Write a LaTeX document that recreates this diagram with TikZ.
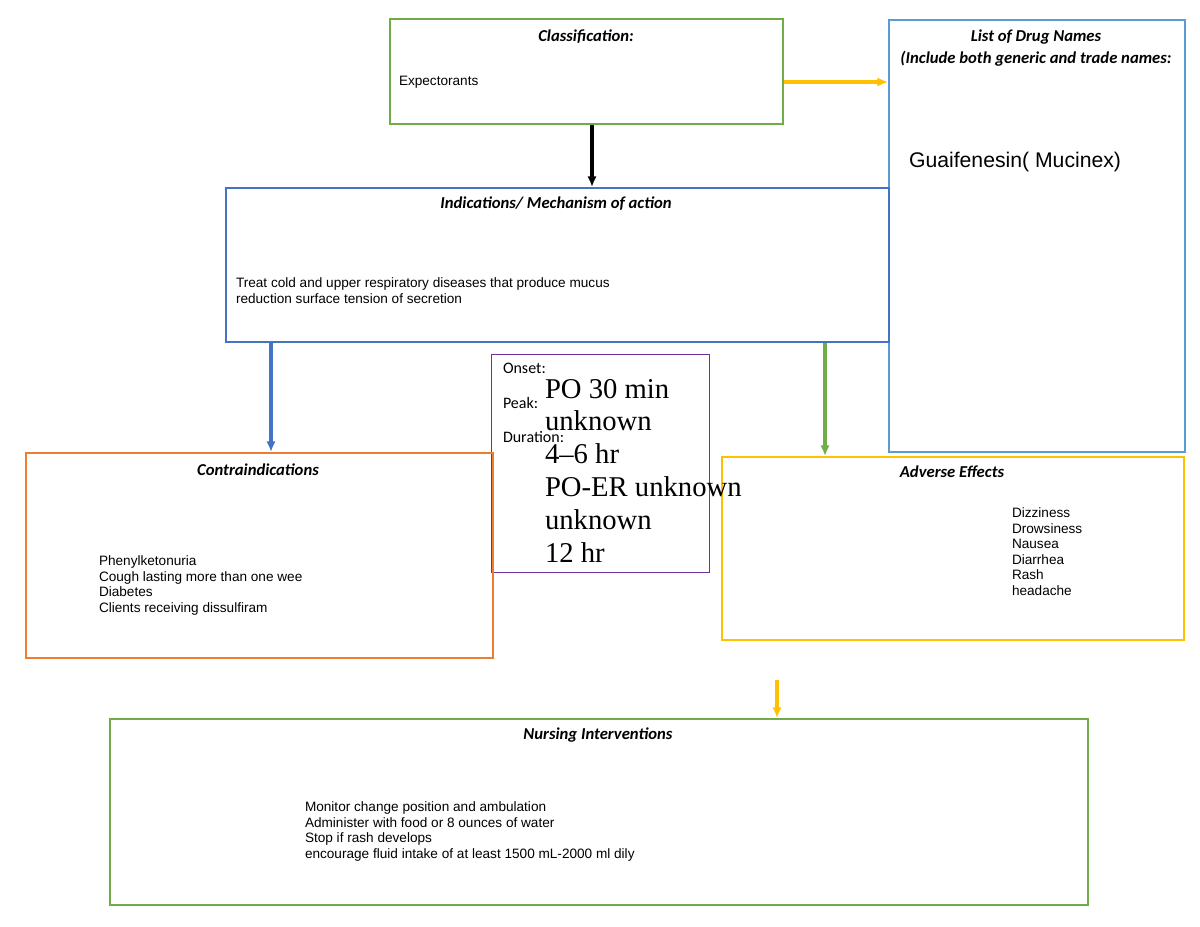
\documentclass[tikz,border=0pt]{standalone}
\usepackage{fontspec}
\setmainfont{Liberation Sans}
\newfontfamily\titlefont{Carlito}
\newfontfamily\bigserif{Liberation Serif}
\usetikzlibrary{arrows.meta}
\definecolor{cgreen}{RGB}{112,173,71}
\definecolor{cblue}{RGB}{91,155,213}
\definecolor{cdblue}{RGB}{68,114,196}
\definecolor{cpurple}{RGB}{112,48,160}
\definecolor{corange}{RGB}{237,125,49}
\definecolor{cgold}{RGB}{255,192,0}
\tikzset{every picture/.style={line width=1.5pt}}
\tikzset{box/.style={draw,rectangle,inner sep=0pt,anchor=north west},
  ttl/.style={font=\titlefont\bfseries\itshape\fontsize{12.5}{15}\selectfont},
  txt/.style={font=\fontsize{10.2}{11.6}\selectfont,align=left,anchor=north west,inner sep=0pt},
  arr/.style={-{Latex[length=8pt,width=7pt]},line width=2.8pt}}

\begin{document}
\begin{tikzpicture}[x=0.75pt,y=0.75pt,yscale=-1,xscale=1]
\useasboundingbox (0,0) rectangle (1200,927);

%Shape: Rectangle [id:class]
\node (class) [box,draw=cgreen,minimum width=294.75pt,minimum height=78.75pt] at (389,18) {};
%Shape: Rectangle [id:names]
\node (names) [box,draw=cblue,minimum width=222pt,minimum height=324pt] at (888,19) {};
%Shape: Rectangle [id:ind]
\node (ind) [box,draw=cdblue,minimum width=497.25pt,minimum height=115.5pt] at (225,187) {};
%Shape: Rectangle [id:onset]
\node (onset) [box,draw=cpurple,line width=0.8pt,minimum width=163.5pt,minimum height=163.5pt] at (491,354) {};
%Shape: Rectangle [id:contra]
\node (contra) [box,draw=corange,minimum width=350.25pt,minimum height=153.75pt] at (25,452) {};
%Shape: Rectangle [id:adverse]
\node (adverse) [box,draw=cgold,minimum width=346.5pt,minimum height=137.25pt] at (721,456) {};
%Shape: Rectangle [id:nursing]
\node (nursing) [box,draw=cgreen,minimum width=733.5pt,minimum height=139.5pt] at (109,718) {};
\coordinate (yfree) at (777,680);

%Arrows
\draw [arr,cgold] (class.east |- 0,82) -- (names.west |- 0,82);
\draw [arr,black] (class.south -| 592,0) -- (ind.north -| 592,0);
\draw [arr,cdblue] (ind.south -| 271,0) -- (contra.north -| 271,0);
\draw [arr,cgreen] (ind.south -| 825,0) -- (adverse.north -| 825,0);
\draw [arr,cgold] (yfree) -- (nursing.north -| 777,0);

% Text Node
\draw (586,37) node [ttl] (tclass) {Classification:};
\draw (398,75) node [txt] (expect) {Expectorants};
\draw (1036,37) node [ttl] (tnames) {List of Drug Names};
\draw (1036,59) node [ttl] (tnames2) {(Include both generic and trade names:};
\draw (908,151) node [txt,font=\fontsize{15.9}{18}\selectfont] (drug) {Guaifenesin( Mucinex)};
\draw (556,204) node [ttl] (tind) {Indications/ Mechanism of action};
\draw (235,277) node [txt] (indtxt) {Treat cold and upper respiratory diseases that produce mucus\\reduction surface tension of secretion};
\draw (502,362) node [txt,font=\titlefont\fontsize{12}{14}\selectfont] (ton) {Onset:};
\draw (502,396) node [txt,font=\titlefont\fontsize{12}{14}\selectfont] (tpeak) {Peak:};
\draw (502,430) node [txt,font=\titlefont\fontsize{12}{14}\selectfont] (tdur) {Duration:};
\draw (544,378) node [txt,font=\bigserif\fontsize{21.5}{24.6}\selectfont] (times) {PO 30 min\\unknown\\4–6 hr\\PO-ER unknown\\unknown\\12 hr};
\draw (258,470) node [ttl] (tcontra) {Contraindications};
\draw (98,555) node [txt] (contratxt) {Phenylketonuria\\Cough lasting more than one wee\\Diabetes\\Clients receiving dissulfiram};
\draw (952,472) node [ttl] (tadv) {Adverse Effects};
\draw (1011,507) node [txt] (advtxt) {Dizziness\\Drowsiness\\Nausea\\Diarrhea\\Rash\\headache};
\draw (598,735) node [ttl] (tnurs) {Nursing Interventions};
\draw (304,801) node [txt] (nurstxt) {Monitor change position and ambulation\\Administer with food or 8 ounces of water\\Stop if rash develops\\encourage fluid intake of at least 1500 mL-2000 ml dily};

\end{tikzpicture}
\end{document}
